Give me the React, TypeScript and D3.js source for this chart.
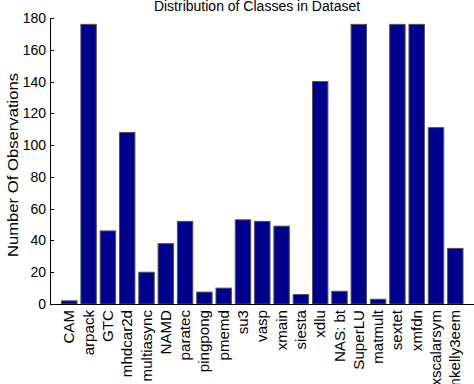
import React, { useEffect, useRef } from 'react';
import * as d3 from 'd3';

const classes = ['CAM', 'arpack', 'GTC', 'mhdcar2d', 'multiasync', 'NAMD', 'paratec', 'pingpong', 'pmemd', 'su3', 'vasp', 'xmain', 'siesta', 'xdlu', 'NAS: bt', 'SuperLU', 'matmult', 'sextet', 'xmfdn', 'xscalarsym', 'mkelly3eem'];
const counts = [2, 176, 46, 108, 20, 38, 52, 7.5, 10, 53, 52, 49, 6, 140, 8, 176, 3, 176, 176, 111, 35];
const yTicks = [0, 20, 40, 60, 80, 100, 120, 140, 160, 180];

const App = () => {
  const ref = useRef(null);

  useEffect(() => {
    const svg = d3.select(ref.current);
    svg.selectAll('*').remove();

    const width = 474;
    const height = 384;
    const left = 50;
    const top = 18;
    const bottom = 304;

    const x = d3.scaleLinear().domain([0, 22]).range([left, left + 22 * 19.3]);
    const y = d3.scaleLinear().domain([0, 180]).range([bottom, top]);
    const bw = (x(1) - x(0)) * 0.8;

    svg.attr('width', width).attr('height', height)
      .style('font-family', '"Liberation Sans", Arial, sans-serif');

    svg.append('rect').attr('width', width).attr('height', height).attr('fill', '#fff');

    svg.selectAll('rect.bar')
      .data(counts)
      .enter()
      .append('rect')
      .attr('class', 'bar')
      .attr('x', (d, i) => x(i + 1) - bw / 2)
      .attr('y', d => y(d))
      .attr('width', bw)
      .attr('height', d => y(0) - y(d))
      .attr('fill', '#00008f')
      .attr('stroke', '#555')
      .attr('stroke-width', 1);

    // axes
    svg.append('line')
      .attr('x1', left).attr('x2', width)
      .attr('y1', bottom + 0.5).attr('y2', bottom + 0.5)
      .attr('stroke', '#000');
    svg.append('line')
      .attr('x1', left + 0.5).attr('x2', left + 0.5)
      .attr('y1', top).attr('y2', bottom)
      .attr('stroke', '#000');

    const yt = svg.append('g');
    yTicks.forEach(t => {
      yt.append('line')
        .attr('x1', left).attr('x2', left + 4)
        .attr('y1', Math.round(y(t)) + 0.5).attr('y2', Math.round(y(t)) + 0.5)
        .attr('stroke', '#000');
      yt.append('text')
        .attr('x', left - 4)
        .attr('y', y(t))
        .attr('dy', '0.36em')
        .attr('text-anchor', 'end')
        .attr('font-size', '14px')
        .text(t);
    });

    classes.forEach((c, i) => {
      svg.append('text')
        .attr('transform', `translate(${x(i + 1)}, ${bottom + 6}) rotate(-90) scale(1.08, 1)`)
        .attr('dy', '0.36em')
        .attr('text-anchor', 'end')
        .attr('font-size', '14px')
        .text(c);
    });

    svg.append('text')
      .attr('transform', `translate(13, ${(top + bottom) / 2 + 4}) rotate(-90) scale(1.15, 1)`)
      .attr('dy', '0.36em')
      .attr('text-anchor', 'middle')
      .attr('font-size', '14.5px')
      .text('Number Of Observations');

    svg.append('text')
      .attr('x', 257)
      .attr('y', 11)
      .attr('text-anchor', 'middle')
      .attr('font-size', '14px')
      .text('Distribution of Classes in Dataset');
  }, []);

  return (
    <div style={{ position: 'absolute', left: 0, top: 0 }}>
      <svg ref={ref}></svg>
    </div>
  );
};

export default App;
